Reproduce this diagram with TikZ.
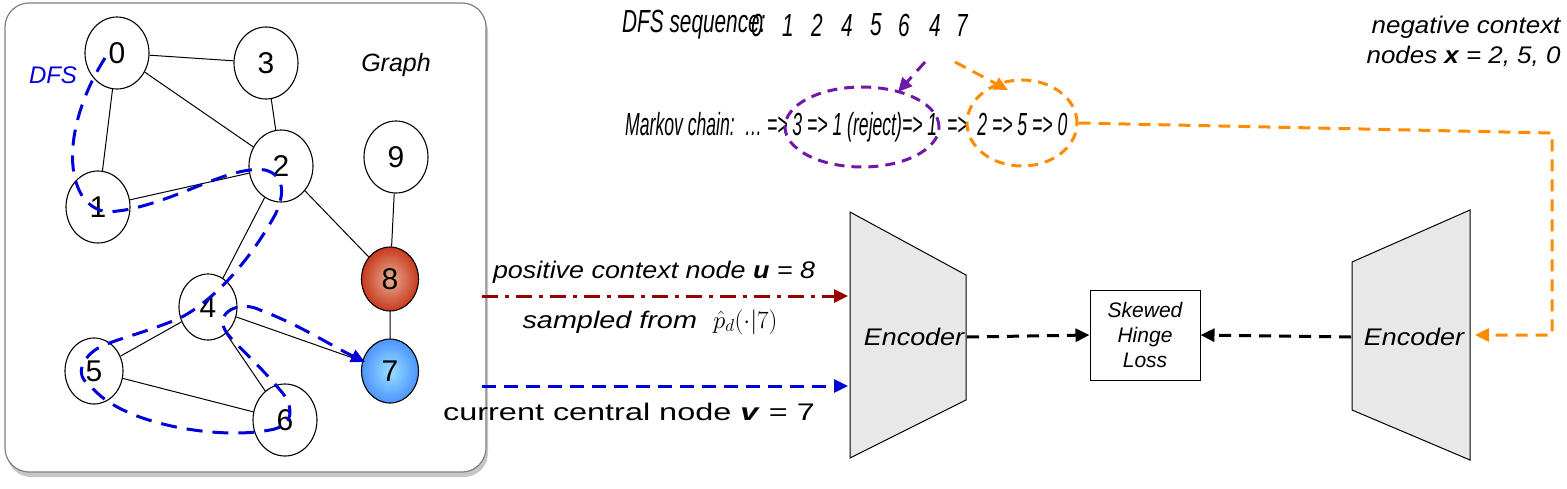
\documentclass[tikz,border=0pt]{standalone}
\usepackage{fontspec}
\setmainfont{Liberation Sans}
\newfontfamily\condf{Liberation Sans}[FakeStretch=0.65]
\newfontfamily\condm{Liberation Sans}[FakeStretch=0.55]
\newfontfamily\wideA{Liberation Sans}[FakeStretch=1.12]
\newfontfamily\wideB{Liberation Sans}[FakeStretch=1.2]
\newfontfamily\wideC{Liberation Sans}[FakeStretch=1.35]
\newfontfamily\wideD{Liberation Sans}[FakeStretch=1.08]
\usetikzlibrary{arrows.meta,shadows,shapes.geometric}
\begin{document}
\begin{tikzpicture}[x=1pt,y=-1pt,
  gn/.style={ellipse,draw,line width=1.1pt,minimum width=64pt,minimum height=72pt,inner sep=0pt,font=\fontsize{30}{30}\selectfont},
  sn/.style={circle,draw,line width=1.1pt,minimum size=57pt,inner sep=0pt,font=\fontsize{30}{30}\selectfont},
  ed/.style={line width=1pt},
  dfs/.style={draw=blue!85!black,line width=3pt,dash pattern=on 16pt off 10pt},
  big/.style={font=\fontsize{32}{34}\selectfont\condf\itshape},
  enc/.style={fill=gray!18,draw,line width=1pt},
  dsh/.style={line width=3pt,dash pattern=on 12pt off 8pt},
  tip/.style={-{Triangle[length=14pt,width=13pt]}}]
\useasboundingbox (0,0) rectangle (1567,488);
\node[draw=gray,line width=1.2pt,rounded corners=24pt,minimum width=481pt,minimum height=469pt,drop shadow={opacity=0.45,shadow xshift=2pt,shadow yshift=-5pt}, fill=white] (box) at (245.5,237.5) {};
\node[gn] (n0) at (117,53) {0};
\node[gn] (n3) at (266,63) {3};
\node[gn] (n2) at (281,166) {2};
\node[gn] (n9) at (396,157) {9};
\node[gn] (n1) at (98,207) {1};
\node[gn,minimum width=58pt,minimum height=66pt] (n4) at (208,307) {4};
\node[gn,minimum width=58pt,minimum height=66pt] (n5) at (94,371) {5};
\node[gn] (n6) at (285,420) {6};
\node[sn,minimum height=64pt,ellipse,inner color=white!80!red!60!brown,outer color=red!50!brown!90!black] (n8) at (390,279) {8};
\node[sn,minimum height=64pt,ellipse,inner color=blue!30!cyan!40,outer color=blue!60!cyan!70] (n7) at (390,371) {7};
\draw[ed] (n0)--(n3) (n0)--(n2) (n0)--(n1) (n3)--(n2) (n1)--(n2) (n2)--(n4) (n2)--(n8) (n9)--(n8) (n8)--(n7) (n4)--(n5) (n4)--(n6) (n4)--(n7) (n5)--(n6);
\node[font=\fontsize{25}{25}\selectfont\itshape] (gl) at (396,65) {Graph};
\node[font=\fontsize{24}{24}\selectfont\itshape,text=blue!85!black] (dl) at (53,75) {DFS};
\coordinate (dfsEnd) at (365,362);
\draw[dfs,tip] (105,58) .. controls (72,110) and (62,170) .. (85,200)
  .. controls (100,215) and (110,212) .. (125,210)
  .. controls (180,200) and (230,165) .. (265,170)
  .. controls (285,175) and (285,195) .. (275,215)
  .. controls (250,260) and (215,300) .. (180,318)
  .. controls (140,335) and (110,340) .. (95,350)
  .. controls (75,365) and (80,380) .. (90,385)
  .. controls (120,425) and (220,440) .. (270,430)
  .. controls (300,425) and (290,400) .. (280,390)
  .. controls (255,360) and (230,340) .. (225,330)
  .. controls (215,312) and (240,300) .. (260,310)
  .. controls (300,325) and (330,345) .. (dfsEnd);
% top text
\node[big,anchor=west,inner sep=0pt] (seq) at (622,25) {DFS sequence:};
\foreach \x/\d/\n in {757/0/s0,788/1/s1,817/2/s2,847/4/s3,876/5/s4,904/6/s5,935/4/s6,962/7/s7}
  \node[big] (\n) at (\x,25) {\d};
\node[font=\fontsize{32}{34}\selectfont\condm\itshape,anchor=west,inner sep=0pt] (mc) at (625,127) {Markov chain:\ \ \dots\ =>\ 3 => 1 (reject)=> 1 \ => \ 2 => 5 => 0};
\node[draw=violet!75!blue!90,line width=3pt,dash pattern=on 10pt off 7pt,ellipse,minimum width=154pt,minimum height=80pt] (pe) at (862,127) {};
\node[draw=orange!90!yellow,line width=3pt,dash pattern=on 10pt off 7pt,ellipse,minimum width=110pt,minimum height=86pt] (oe) at (1022,123) {};
\node[font=\fontsize{24}{30}\selectfont\wideD\itshape,anchor=east,align=right] (neg) at (1564,41) {negative context\\nodes \textbf{\textit{x}} = 2, 5, 0};
\coordinate (pa) at (925,62);
\coordinate (pb) at (898,92);
\coordinate (oa) at (955,62);
\coordinate (ob) at (1008,90);
\draw[draw=violet!75!blue!90,dsh,tip] (pa) -- (pb);
\draw[draw=orange!90!yellow,dsh,tip] (oa) -- (ob);
% encoders
\draw[enc] (850,212) -- (966,275) -- (966,400) -- (850,458) -- cycle;
\draw[enc] (1352,262) -- (1470,210) -- (1470,460) -- (1352,410) -- cycle;
\node[font=\fontsize{24}{24}\selectfont\wideA\itshape] (e1) at (914,337) {Encoder};
\node[font=\fontsize{24}{24}\selectfont\wideA\itshape] (e2) at (1414,337) {Encoder};
\node[draw,line width=1pt,minimum width=110pt,minimum height=90pt,align=center,font=\fontsize{21}{25}\selectfont\itshape] (loss) at (1145,335) {Skewed\\Hinge\\Loss};
\coordinate (e1o) at (967,337);
\coordinate (e1i) at (848,296);
\coordinate (e1j) at (848,386);
\coordinate (e2o) at (1351,337);
\coordinate (e2i) at (1475,335);
\coordinate (oc) at (1552,133);
\coordinate (od) at (1552,335);
\draw[dsh,tip] (e1o) -- (loss.west);
\draw[dsh,tip] (e2o) -- (loss.east);
\draw[draw=orange!90!yellow,dsh,tip] (oe.east) -- (oc) -- (od) -- (e2i);
\coordinate (p8) at (482,296);
\coordinate (p7) at (482,386);
\draw[draw=red!60!black,line width=3pt,dash pattern=on 16pt off 7pt on 4pt off 7pt,tip] (p8) -- (e1i);
\draw[dfs,dash pattern=on 14pt off 8pt,tip] (p7) -- (e1j);
\node[font=\fontsize{24}{26}\selectfont\wideA\itshape] (pl) at (654,272) {positive context node \textbf{\textit{u}} = 8};
\node[font=\fontsize{24}{26}\selectfont\wideB\itshape] (sl) at (650,322) {sampled from \ $\hat{p}_d(\cdot|7)$};
\node[font=\fontsize{24}{26}\selectfont\wideC] (cl) at (629,412) {current central node \textbf{\textit{v}} = 7};
\end{tikzpicture}
\end{document}
